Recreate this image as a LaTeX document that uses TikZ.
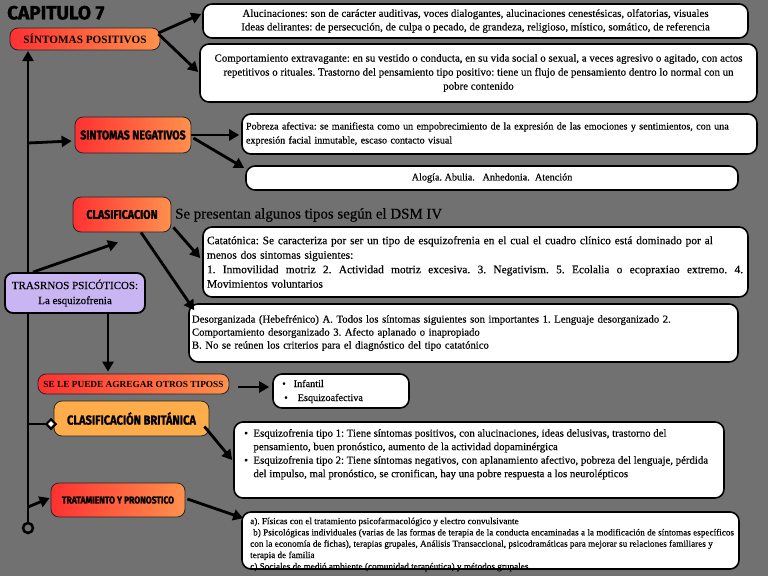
\documentclass[tikz,border=0pt]{standalone}
\usepackage{fontspec}
\usepackage{graphicx}
\setmainfont{Liberation Serif}[UprightFeatures={FakeBold=0.35}]
\newfontfamily\heavy{Fira Sans}[BoldFeatures={FakeBold=1.5}]
\usetikzlibrary{arrows.meta,shapes.geometric}
\definecolor{bg}{HTML}{717171}
\definecolor{gradL}{HTML}{FF3131}
\definecolor{gradR}{HTML}{FF914D}
\definecolor{orng}{HTML}{FFAC4B}
\definecolor{lav}{HTML}{C9B5F2}
\newcommand{\hv}[2]{{\heavy\bfseries\fontsize{#1}{#1}\selectfont\scalebox{0.85}[1]{#2}}}
\frenchspacing
\begin{document}
\frenchspacing
\begin{tikzpicture}[x=1pt,y=-1pt,
 wbox/.style={draw=black, line width=1.6pt, fill=white, rounded corners=9pt, inner sep=0pt},
 gbox/.style={draw=black!85, line width=0.8pt, left color=gradL, right color=gradR, rounded corners=8pt, inner sep=0pt},
 arr/.style={line width=2.8pt, -{Triangle[length=10pt,width=11pt]}},
 plain/.style={inner sep=0pt, anchor=north west}
]
\fill[bg] (0,0) rectangle (768,576);
\useasboundingbox (0,0) rectangle (768,576);

% main vertical line
\node[circle, draw, line width=2.5pt, minimum size=10pt, inner sep=0pt, fill=bg] (vend) at (28,528) {};
\coordinate (vtop) at (28,51);
\draw[arr] (vend.north) -- (vtop);

\node[inner sep=0pt, anchor=base west] (title) at (7,19.3) {{\heavy\bfseries\fontsize{19}{19}\selectfont CAPITULO 7}};

% positive symptoms
\node[gbox, minimum width=150pt, minimum height=22pt] (sp) at (85,39) {\fontsize{11.2}{12}\selectfont\bfseries SÍNTOMAS POSITIVOS};
\node[wbox, minimum width=545pt, minimum height=34pt, align=center, font=\fontsize{10.9}{13.5}\selectfont] (a1) at (475.5,21)
 {Alucinaciones: son de carácter auditivas, voces dialogantes, alucinaciones cenestésicas, olfatorias, visuales\\Ideas delirantes: de persecución, de culpa o pecado, de grandeza, religioso, místico, somático, de referencia};
\node[wbox, minimum width=557pt, minimum height=58pt, align=center, font=\fontsize{10.9}{14}\selectfont] (a2) at (478.5,73)
 {Comportamiento extravagante: en su vestido o conducta, en su vida social o sexual, a veces agresivo o agitado, con actos\\repetitivos o rituales. Trastorno del pensamiento tipo positivo: tiene un flujo de pensamiento dentro lo normal con un\\pobre contenido};

% negative symptoms
\node[gbox, minimum width=116pt, minimum height=36pt] (sn) at (133,135) {\hv{12.5}{SINTOMAS NEGATIVOS}};
\node[wbox, minimum width=515pt, minimum height=40pt, align=left, text width=507pt, inner xsep=4pt, font=\fontsize{10.1}{14}\selectfont] (b1) at (499.5,134)
 {Pobreza afectiva: se manifiesta como un empobrecimiento de la expresión de las emociones y sentimientos, con una\\expresión facial inmutable, escaso contacto visual};
\node[wbox, minimum width=492pt, minimum height=24pt, font=\fontsize{10.2}{12}\selectfont] (b2) at (492,178) {Alogía.~Abulia.~~ Anhedonia.~ Atención};

% clasificacion
\node[gbox, minimum width=98pt, minimum height=35pt] (cl) at (122,214.5) {\hv{12.5}{CLASIFICACION}};
\node[inner sep=0pt, anchor=west, font=\fontsize{14.9}{16}\selectfont] (dsm) at (175,215) {Se presentan algunos tipos según el DSM IV};
\node[wbox, minimum width=545pt, minimum height=70pt, align=left, text width=537pt, inner xsep=3pt, font=\fontsize{11.4}{14.5}\selectfont] (c1) at (475.5,262)
 {Catatónica: Se caracteriza por ser un tipo de esquizofrenia en el cual el cuadro clínico está dominado por al\\menos dos sintomas siguientes:\\\makebox[536pt][l]{1.\hfill Inmovilidad\hfill motriz\hfill 2.\hfill Actividad\hfill motriz\hfill excesiva.\hfill 3.\hfill Negativism.\hfill 5.\hfill Ecolalia\hfill o\hfill ecopraxiao\hfill extremo.\hfill 4.}\\Movimientos voluntarios};
\node[wbox, minimum width=549pt, minimum height=58pt, align=left, text width=543pt, inner xsep=3pt, font=\fontsize{10.7}{13}\selectfont] (c2) at (463.5,333)
 {Desorganizada (Hebefrénico) A. Todos los síntomas siguientes son importantes 1. Lenguaje desorganizado 2.\\Comportamiento desorganizado 3. Afecto aplanado o inapropiado\\B. No se reúnen los criterios para el diagnóstico del tipo catatónico};

% root
\node[draw=black, line width=1.8pt, fill=lav, rounded corners=8pt, minimum width=140pt, minimum height=40pt, align=center, inner sep=0pt, font=\fontsize{11}{15}\selectfont] (tr) at (75,293)
 {TRASRNOS PSICÓTICOS:\\La esquizofrenia};

% otros tipos
\node[gbox, minimum width=191pt, minimum height=20pt] (se) at (133.5,384) {\fontsize{9.3}{10}\selectfont\bfseries SE LE PUEDE AGREGAR OTROS TIPOSS};
\node[wbox, minimum width=136pt, minimum height=34pt] (in) at (341,391) {};
\node[plain, font=\fontsize{10.2}{14}\selectfont] (intxt) at (282,377)
 {\begin{tabular}{@{}l@{\hspace{6pt}}l@{}}\textbullet & Infantil\\\hspace{2pt}\textbullet & \hspace{4pt}Esquizoafectiva\end{tabular}};

% britanica
\node[draw=black!85, line width=0.8pt, fill=orng, rounded corners=8pt, minimum width=155pt, minimum height=35pt, inner sep=0pt] (cb) at (131.5,418.5) {\hv{13}{CLASIFICACIÓN BRITÁNICA}};
\node[diamond, draw, line width=2pt, fill=white, minimum size=10pt, inner sep=0pt] (dia) at (51,424) {};
\coordinate (jCB) at (28,424);
\node[wbox, minimum width=490pt, minimum height=76pt] (d) at (479,460) {};
\node[plain, font=\fontsize{10.8}{13.5}\selectfont] (dtxt) at (244,427)
 {\begin{tabular}{@{}l@{\hspace{5.5pt}}l@{}}\textbullet & Esquizofrenia tipo 1: Tiene síntomas positivos, con alucinaciones, ideas delusivas, trastorno del\\
 & pensamiento, buen pronóstico, aumento de la actividad dopaminérgica\\
 \textbullet & Esquizofrenia tipo 2: Tiene síntomas negativos, con aplanamiento afectivo, pobreza del lenguaje, pérdida\\
 & del impulso, mal pronóstico, se cronifican, hay una pobre respuesta a los neurolépticos\end{tabular}};

% tratamiento
\node[gbox, minimum width=134pt, minimum height=34pt] (tp) at (118,500) {\hv{10}{TRATAMIENTO Y PRONOSTICO}};
\node[wbox, minimum width=497pt, minimum height=57pt] (e) at (490.5,540.5) {};
\node[plain, font=\fontsize{9.2}{11.3}\selectfont] (etxt) at (250,516)
 {\begin{tabular}{@{}l@{}}a). Físicas con el tratamiento psicofarmacológico y electro convulsivante\\
 \hspace{3pt}b) Psicológicas individuales (varias de las formas de terapia de la conducta encaminadas a la modificación de síntomas específicos\\
 con la economía de fichas), terapias grupales, Análisis Transaccional, psicodramáticas para mejorar su relaciones familiares y\\
 terapia de familia\\
 c) Sociales de medió ambiente (comunidad terapéutica) y métodos grupales.\end{tabular}};

% connectors
\draw[arr] ([shift={(-2,-6)}]sp.east) -- ([shift={(-1,-7)}]a1.west);
\draw[arr] ([shift={(-2,-5)}]sp.east) -- ([shift={(-1,-1)}]a2.west);
\coordinate (jSN) at (28,143);
\draw[arr] (jSN) -- ([shift={(-3,6)}]sn.west);
\draw[arr] (sn.east) -- ([shift={(-2,1)}]b1.west);
\draw[arr] ([shift={(2,3)}]sn.east) -- ([shift={(-1,-10)}]b2.west);
\draw[arr] ([shift={(2,-5)}]cl.south east) -- ([shift={(-2,-4)}]c1.west);
\draw[arr] ([shift={(19,0)}]cl.south) -- ([shift={(6,7)}]c2.north west);
\draw[arr] ([shift={(-42,0)}]tr.north) -- ([shift={(-4,10)}]cl.south);
\draw[arr] ([shift={(33,0)}]tr.south) -- ([shift={(-25.5,-2)}]se.north);
\draw[arr] ([shift={(9,3)}]se.east) -- ([shift={(-3,-4)}]in.west);
\draw[line width=2.8pt] (jCB) -- (dia.west);
\node[diamond, draw, line width=2pt, fill=white, minimum size=10pt, inner sep=0pt] at (dia) {};
\draw[arr] ([shift={(-5,8)}]cb.east) -- ([shift={(-1,0)}]d.west);
\coordinate (jTP) at (28,507);
\draw[arr] (jTP) -- ([shift={(-1,-2)}]tp.west);
\draw[arr] ([shift={(2,-1)}]tp.east) -- ([shift={(2,7)}]e.north west);
\end{tikzpicture}
\end{document}
